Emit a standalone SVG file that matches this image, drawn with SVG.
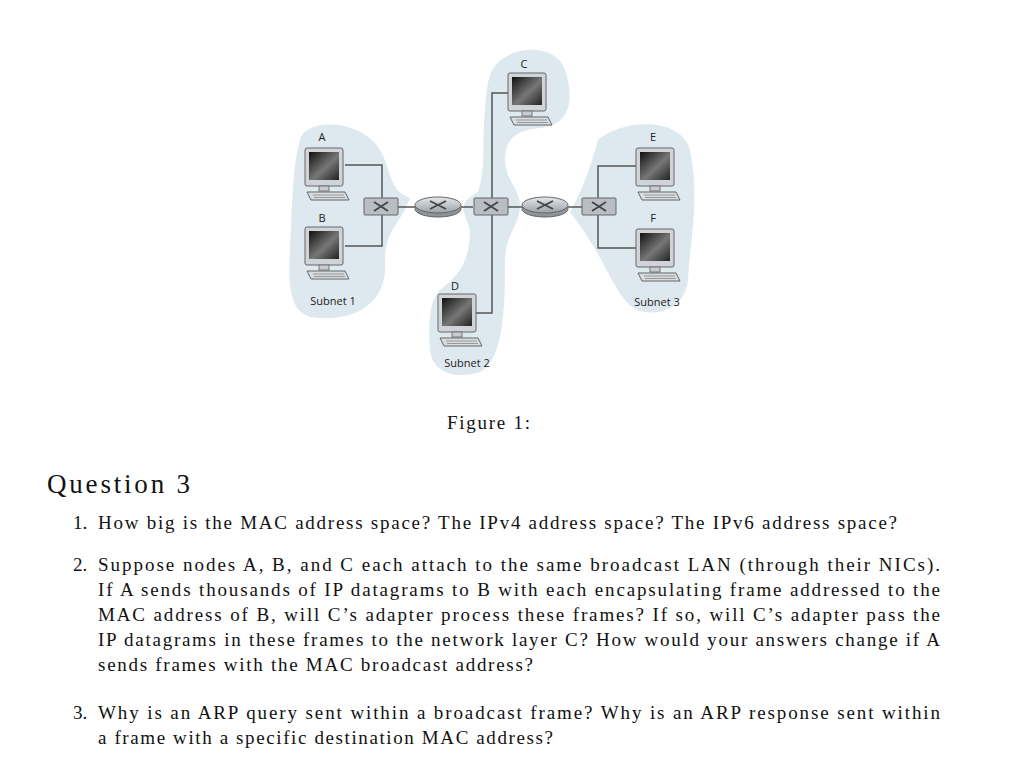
<svg xmlns="http://www.w3.org/2000/svg" width="1029" height="774" viewBox="0 0 1029 774">
<defs>
<style>
.blob{fill:#dde8ef}
.lbl{font-family:"Open Sans","DejaVu Sans",sans-serif;font-size:11px;fill:#222}
.ln{stroke:#555;stroke-width:1.5;fill:none}
.body{font-family:"Liberation Serif",serif;font-size:19px;fill:#111}
.sw{fill:#b8bec4;stroke:#666;stroke-width:1}
.x{stroke:#444;stroke-width:1.8;fill:none}
</style>
<linearGradient id="scr" x1="0" y1="0" x2="1" y2="1"><stop offset="0" stop-color="#111"/><stop offset="0.55" stop-color="#777"/><stop offset="1" stop-color="#222"/></linearGradient>
<linearGradient id="rt" x1="0" y1="0" x2="0" y2="1"><stop offset="0" stop-color="#e4e8eb"/><stop offset="1" stop-color="#9aa2a8"/></linearGradient>
<g id="pc">
<rect x="0" y="0" width="38" height="38" rx="2" fill="#d0d4d8" stroke="#666"/>
<rect x="4" y="4" width="30" height="28" fill="url(#scr)"/>
<rect x="14" y="38" width="10" height="5" fill="#c8ccd0" stroke="#777"/>
<path d="M2 44 L40 44 L44 52 L6 52 Z" fill="#d8dcdf" stroke="#666"/>
<path d="M8 47 H39 M9 49.5 H40" stroke="#888" stroke-width="0.8"/>
</g>
<g id="sw"><rect class="sw" x="0" y="0" width="34" height="17" rx="1"/><path class="x" d="M10 4 L24 13 M24 4 L10 13"/></g>
<g id="rtr"><ellipse cx="0" cy="3" rx="23" ry="8" fill="#8d959b" stroke="#666"/><ellipse cx="0" cy="-1" rx="23" ry="8" fill="url(#rt)" stroke="#666"/><path class="x" d="M-8 -5 L8 3 M8 -5 L-8 3"/></g>
</defs>
<g id="blobs">
<path class="blob" d="M300 140 C305 118 360 118 380 150 C392 170 388 190 410 198 C400 225 385 230 385 260 C388 300 360 320 320 318 C290 318 288 290 290 250 C292 210 292 170 300 140 Z"/>
<path class="blob" d="M490 75 C500 45 555 40 565 70 C575 100 570 125 540 128 C515 130 505 140 505 160 C505 180 520 190 520 205 C520 225 505 235 505 260 C505 300 505 360 480 372 C455 380 432 372 430 350 C428 320 430 300 440 290 C460 275 470 260 470 230 C465 212 455 205 478 192 C486 170 482 140 485 110 C486 95 487 85 490 75 Z"/>
<path class="blob" d="M598 140 C620 120 680 115 690 150 C700 200 690 240 688 280 C685 315 640 322 625 300 C610 282 600 250 570 212 C580 195 590 170 598 140 Z"/>
</g>
<g id="connectors">
<path class="ln" d="M345 165 H382 V198 M345 246 H382 V215 M398 207 H416 M461 207 H473 M507 207 H523 M568 207 H582 M508 93 H492 V198 M492 215 V313 H476 M636 166 H598 V198 M636 248 H598 V215"/>
</g>
<g id="A"><use href="#pc" x="305" y="148"/><text class="lbl" x="322" y="141" text-anchor="middle">A</text></g>
<g id="B"><use href="#pc" x="305" y="227"/><text class="lbl" x="322" y="222" text-anchor="middle">B</text></g>
<g id="C"><use href="#pc" x="508" y="73"/><text class="lbl" x="524" y="68" text-anchor="middle">C</text></g>
<g id="D"><use href="#pc" x="438" y="294"/><text class="lbl" x="455" y="290" text-anchor="middle">D</text></g>
<g id="E"><use href="#pc" x="636" y="148"/><text class="lbl" x="653" y="141" text-anchor="middle">E</text></g>
<g id="F"><use href="#pc" x="636" y="229"/><text class="lbl" x="653" y="222" text-anchor="middle">F</text></g>
<g id="switch1"><use href="#sw" x="364" y="198"/></g>
<g id="router1"><use href="#rtr" x="438" y="206"/></g>
<g id="switch2"><use href="#sw" x="474" y="198"/></g>
<g id="router2"><use href="#rtr" x="545" y="206"/></g>
<g id="switch3"><use href="#sw" x="582" y="198"/></g>
<text class="lbl" x="333" y="305" text-anchor="middle">Subnet 1</text>
<text class="lbl" x="467" y="367" text-anchor="middle">Subnet 2</text>
<text class="lbl" x="657" y="306" text-anchor="middle">Subnet 3</text>
<text class="body" x="447" y="429" textLength="83">Figure 1:</text>
<text x="47" y="493" textLength="143" style="font-family:'Liberation Serif',serif;font-size:27px;fill:#111">Question 3</text>
<g class="body">
<text x="73" y="529">1.</text><text x="98" y="529" textLength="799">How big is the MAC address space? The IPv4 address space? The IPv6 address space?</text>
<text x="73" y="571">2.</text>
<text x="98" y="571" textLength="842">Suppose nodes A, B, and C each attach to the same broadcast LAN (through their NICs).</text>
<text x="98" y="596" textLength="842">If A sends thousands of IP datagrams to B with each encapsulating frame addressed to the</text>
<text x="98" y="621" textLength="842">MAC address of B, will C’s adapter process these frames? If so, will C’s adapter pass the</text>
<text x="98" y="646" textLength="842">IP datagrams in these frames to the network layer C? How would your answers change if A</text>
<text x="98" y="671" textLength="435">sends frames with the MAC broadcast address?</text>
<text x="73" y="719">3.</text>
<text x="98" y="719" textLength="842">Why is an ARP query sent within a broadcast frame? Why is an ARP response sent within</text>
<text x="98" y="744" textLength="455">a frame with a specific destination MAC address?</text>
</g>
</svg>
